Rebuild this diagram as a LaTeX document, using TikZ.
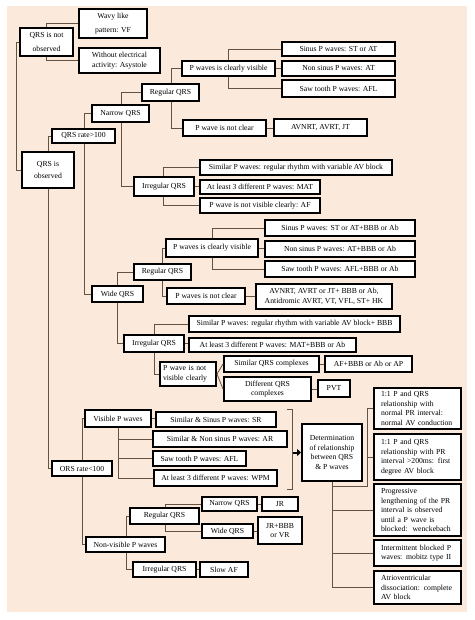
\documentclass[tikz,border=0pt]{standalone}
\usepackage{fontspec}
\setmainfont{Liberation Serif}
\usetikzlibrary{arrows.meta}
\definecolor{bgc}{RGB}{251,233,219}
\definecolor{cl}{RGB}{100,82,66}
\tikzset{
  bx/.style={draw=black, line width=1.8pt, fill=white, inner sep=1pt, align=center,
             font=\fontsize{7.7}{9.5}\selectfont},
  lbx/.style={align=left},
  cn/.style={draw=cl, line width=0.8pt},
}
\newcommand\mybox[7][]{\node[bx,#1,minimum width={(#5-#3-1.8)*1pt},minimum height={(#6-#4-1.8)*1pt}] (#2) at ({(#3+#5)/2},{(#4+#6)/2}) {#7};}
\begin{document}
\begin{tikzpicture}[x=1pt,y=-1pt]
\useasboundingbox (0,0) rectangle (474,620);
\fill[bgc] (7,6) rectangle (467,612);
% boxes
\mybox{QNO}{19}{27}{74}{57}{QRS is not\\[4pt]observed}
\mybox{VF}{78}{8}{148}{39}{Wavy like\\[5pt]pattern: VF}
\mybox{ASY}{78}{47}{161}{74}{Without electrical\\activity: Asystole}
\mybox{QO}{21}{151}{75}{189}{QRS is\\[3pt]observed}
\mybox{RA}{51}{128}{116}{144}{QRS rate>100}
\mybox{NQ}{91}{104}{150}{123}{Narrow QRS}
\mybox{RQa}{141}{83}{200}{102}{Regular QRS}
\mybox{PVa}{181}{60}{276}{77}{P waves is clearly visible}
\mybox{Sa}{281}{41}{396}{57}{Sinus P waves: ST or AT}
\mybox{NSa}{281}{60}{396}{77}{Non sinus P waves: AT}
\mybox{SAWa}{281}{79}{396}{98}{Saw tooth P waves: AFL}
\mybox{PNCa}{182}{119}{267}{137}{P wave is not clear}
\mybox{AVa}{273}{118}{368}{137}{AVNRT, AVRT, JT}
\mybox{IQa}{133}{176}{195}{197}{Irregular QRS}
\mybox{SPa}{199}{159}{393}{176}{Similar P waves: regular rhythm with variable AV block}
\mybox{MATa}{199}{179}{321}{195}{At least 3 different P waves: MAT}
\mybox{AFa}{199}{197}{321}{214}{P wave is not visible clearly: AF}
\mybox{WQ}{91}{285}{144}{303}{Wide QRS}
\mybox{RQb}{133}{263}{192}{281}{Regular QRS}
\mybox{PVb}{165}{238}{259}{258}{P waves is clearly visible}
\mybox{Sb}{264}{219}{416}{237}{Sinus P waves: ST or AT+BBB or Ab}
\mybox{NSb}{264}{240}{416}{258}{Non sinus P waves: AT+BBB or Ab}
\mybox{SAWb}{264}{260}{416}{278}{Saw tooth P waves: AFL+BBB or Ab}
\mybox{PNCb}{166}{287}{246}{305}{P waves is not clear}
\mybox{AVb}{255}{283}{393}{310}{AVNRT, AVRT or JT+ BBB or Ab,\\Antidromic AVRT, VT, VFL, ST+ HK}
\mybox{IQb}{123}{334}{185}{353}{Irregular QRS}
\mybox{SPb}{188}{315}{401}{333}{Similar P waves: regular rhythm with variable AV block+ BBB}
\mybox{MATb}{188}{337}{357}{353}{At least 3 different P waves: MAT+BBB or Ab}
\mybox[lbx,text width=50pt]{PNV}{159}{361}{217}{387}{P wave is not\\visible clearly}
\mybox{SQC}{223}{355}{320}{373}{Similar QRS complexes}
\mybox{DQC}{223}{376}{312}{402}{Different QRS\\complexes}
\mybox{AFAP}{324}{355}{413}{373}{AF+BBB or Ab or AP}
\mybox{PVT}{317}{379}{351}{398}{PVT}
\mybox{RB}{51}{460}{113}{477}{ORS rate<100}
\mybox{VP}{84}{409}{152}{428}{Visible P waves}
\mybox{SR}{155}{411}{277}{428}{Similar \& Sinus P waves: SR}
\mybox{AR}{152}{430}{288}{448}{Similar \& Non sinus P waves: AR}
\mybox{AFLc}{152}{450}{247}{467}{Saw tooth P waves: AFL}
\mybox{WPM}{153}{469}{278}{487}{At least 3 different P waves: WPM}
\mybox{DET}{301}{423}{363}{482}{Determination\\of relationship\\between QRS\\\& P waves}
\mybox[lbx,text width=73pt]{Ba}{373}{387}{462}{430}{1:1 P and QRS\\relationship with\\normal PR interval:\\normal AV conduction}
\mybox[lbx,text width=73pt]{Bb}{373}{433}{462}{481}{1:1 P and QRS\\relationship with PR\\interval >200ms: first\\degree AV block}
\mybox[lbx,text width=73pt]{Bc}{373}{483}{462}{537}{Progressive\\lengthening of the PR\\interval is observed\\until a P wave is\\blocked:\ \ wenckebach}
\mybox[lbx,text width=73pt]{Bd}{373}{539}{462}{567}{Intermittent blocked P\\waves: mobitz type II}
\mybox[lbx,text width=73pt]{Be}{373}{570}{462}{605}{Atrioventricular\\dissociation: complete\\AV block}
\mybox{NVP}{85}{536}{166}{553}{Non-visible P waves}
\mybox{RQc}{129}{507}{200}{525}{Regular QRS}
\mybox{NQc}{201}{496}{258}{512}{Narrow QRS}
\mybox{WQc}{201}{523}{254}{539}{Wide QRS}
\mybox{JR}{261}{496}{299}{512}{JR}
\mybox{JRB}{257}{516}{303}{545}{JR+BBB\\or VR}
\mybox{IQc}{132}{561}{197}{578}{Irregular QRS}
\mybox{SAF}{199}{561}{249}{578}{Slow AF}
% connectors
\draw[cn] (QNO.west) -- ++(-3,0) |- (QO.west);
\draw[cn] (QNO.north -| 46,0) |- (VF.west);
\draw[cn] (QNO.south -| 46,0) |- (ASY.west);
\draw[cn] (QO.north -| 48,0) |- (RA.west);
\draw[cn] (QO.south -| 48,0) |- (RB.west);
\draw[cn] (RA.north -| 84,0) |- (NQ.west);
\draw[cn] (RA.south -| 84,0) |- (WQ.west);
\draw[cn] (NQ.north -| 121,0) |- (RQa.west);
\draw[cn] (NQ.south -| 121,0) |- (IQa.west);
\draw[cn] (RQa.north -| 171,0) |- (PVa.west);
\draw[cn] (RQa.south -| 171,0) |- (PNCa.west);
\draw[cn] (PVa.north -| 228,0) |- (Sa.west);
\draw[cn] (PVa.east) -- (NSa.west);
\draw[cn] (PVa.south -| 228,0) |- (SAWa.west);
\draw[cn] (PNCa.east) -- (PNCa.east -| AVa.west);
\draw[cn] (IQa.north -| 163,0) |- (SPa.west);
\draw[cn] (IQa.east) -- (IQa.east -| MATa.west);
\draw[cn] (IQa.south -| 163,0) |- (AFa.west);
\draw[cn] (WQ.north -| 117,0) |- (RQb.west);
\draw[cn] (WQ.south -| 117,0) |- (IQb.west);
\draw[cn] (RQb.north -| 162,0) |- (PVb.west);
\draw[cn] (RQb.south -| 162,0) |- (PNCb.west);
\draw[cn] (PVb.north -| 212,0) |- (Sb.west);
\draw[cn] (PVb.east) -- (PVb.east -| NSb.west);
\draw[cn] (PVb.south -| 212,0) |- (SAWb.west);
\draw[cn] (PNCb.east) -- (PNCb.east -| AVb.west);
\draw[cn] (IQb.north -| 154,0) |- (SPb.west);
\draw[cn] (IQb.east) -- (IQb.east -| MATb.west);
\draw[cn] (IQb.south -| 154,0) |- (PNV.west);
\draw[cn] (PNV.east) -- (SQC.west);
\draw[cn] (PNV.east) -- (DQC.west);
\draw[cn] (SQC.east) -- (SQC.east -| AFAP.west);
\draw[cn] (DQC.east) -- (DQC.east -| PVT.west);
\draw[cn] (RB.north -| 82,0) |- (VP.west);
\draw[cn] (RB.south -| 82,0) |- (NVP.west);
\draw[cn] (VP.east) -- (VP.east -| SR.west);
\draw[cn] (VP.south -| 118,0) |- (AR.west);
\draw[cn] (VP.south -| 118,0) |- (AFLc.west);
\draw[cn] (VP.south -| 118,0) |- (WPM.west);
\draw[cn] (NVP.north -| 126,0) |- (RQc.west);
\draw[cn] (NVP.south -| 126,0) |- (IQc.west);
\draw[cn] (RQc.north -| 165,0) |- (NQc.west);
\draw[cn] (RQc.south -| 165,0) |- (WQc.west);
\draw[cn] (NQc.east) -- (NQc.east -| JR.west);
\draw[cn] (WQc.east) -- (WQc.east -| JRB.west);
\draw[cn] (IQc.east) -- (IQc.east -| SAF.west);
% bracket and arrow
\coordinate (brT) at (287,409);
\coordinate (brB) at (287,489);
\coordinate (brM) at (293,452.5);
\draw[cn] (brT) -- ++(5,0) |- (brB);
\draw[black, line width=2pt, -{Triangle[length=4pt,width=7pt]}] (brM) -- (DET.west);
% determination branches
\coordinate (J) at (367,486);
\draw[cn] (DET.south -| 332,0) |- (Be.west);
\draw[cn] (DET.south -| 332,0) |- (Bc.west);
\draw[cn] (DET.south -| 332,0) |- (Bd.west);
\draw[cn] (DET.south -| 332,0) |- (J) |- (Ba.west);
\draw[cn] (J |- Bb.west) -- (Bb.west);
\end{tikzpicture}
\end{document}
